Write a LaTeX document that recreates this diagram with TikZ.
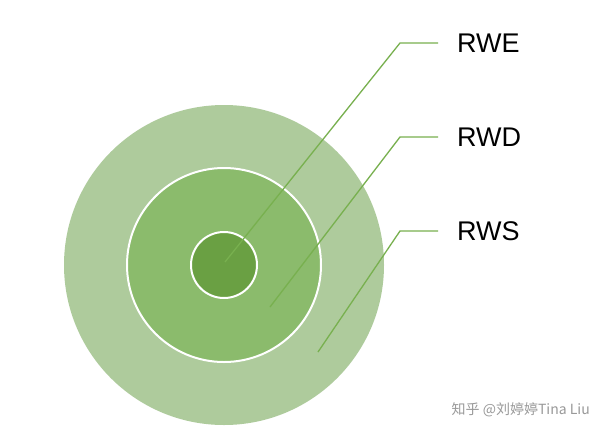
\documentclass[tikz,border=0pt]{standalone}
\usepackage{fontspec}
\setmainfont{Liberation Sans}
\newfontfamily\cjk{Noto Sans CJK SC}
\definecolor{outerc}{HTML}{AECB9C}
\definecolor{midc}{HTML}{8BBB6C}
\definecolor{innc}{HTML}{6AA043}
\definecolor{linec}{HTML}{78B04F}
\begin{document}
\begin{tikzpicture}[x=1pt,y=-1pt,
  lead/.style={draw=linec,line width=1.3pt},
  lbl/.style={anchor=west,inner sep=0pt,font=\fontsize{27}{30}\selectfont}]
\useasboundingbox (0,0) rectangle (600,440);
\fill[white] (0,0) rectangle (600,440);
\fill[outerc] (224,265) circle (160);
\filldraw[fill=midc,draw=white,line width=2pt] (224,265) circle (97);
\filldraw[fill=innc,draw=white,line width=2pt] (224,265) circle (33);
\coordinate (e0) at (225,262); \coordinate (e1) at (400,43); \coordinate (e2) at (438,43);
\coordinate (d0) at (270,307); \coordinate (d1) at (400,137); \coordinate (d2) at (438,137);
\coordinate (s0) at (318,352); \coordinate (s1) at (400,231); \coordinate (s2) at (438,231);
\draw[lead] (e0) -- (e1) -- (e2);
\draw[lead] (d0) -- (d1) -- (d2);
\draw[lead] (s0) -- (s1) -- (s2);
\node[lbl] (rwe) at (457,43) {RWE};
\node[lbl] (rwd) at (457,137) {RWD};
\node[lbl] (rws) at (457,231) {RWS};
\node[anchor=east,inner sep=0pt,text=gray!80,font=\cjk\fontsize{14}{16}\selectfont] (wm) at (590,410) {知乎 @刘婷婷Tina Liu};
\end{tikzpicture}
\end{document}
